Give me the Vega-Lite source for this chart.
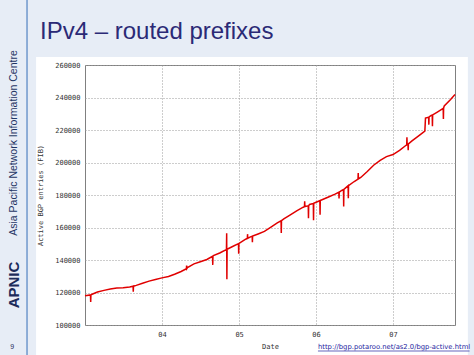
{
  "$schema": "https://vega.github.io/schema/vega-lite/v6.json",
  "width": 370,
  "height": 260,
  "autosize": {"type": "none"},
  "padding": {"left": 85, "top": 65, "right": 19, "bottom": 30},
  "background": "#ffffff",
  "title": {
    "text": "IPv4 – routed prefixes",
    "anchor": "start",
    "frame": "group",
    "dx": -45,
    "offset": -42,
    "dy": 27,
    "baseline": "bottom",
    "font": "Liberation Sans",
    "fontSize": 24,
    "fontWeight": "normal",
    "color": "#2b2a76"
  },
  "config": {
    "view": {"stroke": "#808080", "strokeWidth": 1},
    "axis": {
      "labelFont": "DejaVu Sans Mono",
      "labelFontSize": 7,
      "labelColor": "#333333",
      "labelFlush": false,
      "titleFont": "DejaVu Sans Mono",
      "titleFontSize": 7,
      "titleFontWeight": "normal",
      "titleColor": "#333333",
      "domain": false,
      "ticks": false,
      "grid": true,
      "gridColor": "#9a9a9a",
      "gridDash": [1, 2],
      "gridWidth": 1
    }
  },
  "datasets": {
    "bgp": [
      {"date": "2003-01-01", "entries": 118000},
      {"date": "2003-01-27", "entries": 118500},
      {"date": "2003-01-28", "entries": 114200},
      {"date": "2003-01-29", "entries": 118500},
      {"date": "2003-02-01", "entries": 118800},
      {"date": "2003-03-01", "entries": 120300},
      {"date": "2003-04-01", "entries": 121300},
      {"date": "2003-05-01", "entries": 122200},
      {"date": "2003-06-01", "entries": 122700},
      {"date": "2003-07-01", "entries": 122900},
      {"date": "2003-08-01", "entries": 123400},
      {"date": "2003-08-17", "entries": 123900},
      {"date": "2003-08-18", "entries": 120500},
      {"date": "2003-08-19", "entries": 123900},
      {"date": "2003-09-01", "entries": 124400},
      {"date": "2003-10-01", "entries": 125700},
      {"date": "2003-11-01", "entries": 127000},
      {"date": "2003-12-01", "entries": 128000},
      {"date": "2004-01-01", "entries": 129000},
      {"date": "2004-02-01", "entries": 129800},
      {"date": "2004-03-01", "entries": 131200},
      {"date": "2004-04-01", "entries": 132900},
      {"date": "2004-04-26", "entries": 134600},
      {"date": "2004-04-27", "entries": 136600},
      {"date": "2004-04-28", "entries": 134700},
      {"date": "2004-05-01", "entries": 135300},
      {"date": "2004-06-01", "entries": 137600},
      {"date": "2004-07-01", "entries": 138900},
      {"date": "2004-08-01", "entries": 140300},
      {"date": "2004-08-28", "entries": 142300},
      {"date": "2004-08-29", "entries": 137000},
      {"date": "2004-08-30", "entries": 142400},
      {"date": "2004-09-01", "entries": 142700},
      {"date": "2004-10-01", "entries": 144300},
      {"date": "2004-11-01", "entries": 146400},
      {"date": "2004-11-02", "entries": 146500},
      {"date": "2004-11-03", "entries": 156400},
      {"date": "2004-11-04", "entries": 128200},
      {"date": "2004-11-05", "entries": 146600},
      {"date": "2004-12-01", "entries": 148300},
      {"date": "2004-12-29", "entries": 150100},
      {"date": "2004-12-30", "entries": 143800},
      {"date": "2004-12-31", "entries": 150200},
      {"date": "2005-01-01", "entries": 150300},
      {"date": "2005-02-01", "entries": 152800},
      {"date": "2005-02-09", "entries": 153300},
      {"date": "2005-02-10", "entries": 155900},
      {"date": "2005-02-11", "entries": 153400},
      {"date": "2005-03-01", "entries": 154500},
      {"date": "2005-03-04", "entries": 154600},
      {"date": "2005-03-05", "entries": 151000},
      {"date": "2005-03-06", "entries": 154700},
      {"date": "2005-04-01", "entries": 156000},
      {"date": "2005-05-01", "entries": 157600},
      {"date": "2005-06-01", "entries": 160200},
      {"date": "2005-07-01", "entries": 162800},
      {"date": "2005-07-19", "entries": 164100},
      {"date": "2005-07-20", "entries": 156600},
      {"date": "2005-07-21", "entries": 164200},
      {"date": "2005-08-01", "entries": 165300},
      {"date": "2005-09-01", "entries": 167800},
      {"date": "2005-10-01", "entries": 170200},
      {"date": "2005-11-01", "entries": 172500},
      {"date": "2005-11-07", "entries": 172800},
      {"date": "2005-11-08", "entries": 176200},
      {"date": "2005-11-09", "entries": 172900},
      {"date": "2005-11-25", "entries": 173300},
      {"date": "2005-11-26", "entries": 165700},
      {"date": "2005-11-27", "entries": 173400},
      {"date": "2005-12-01", "entries": 174200},
      {"date": "2005-12-19", "entries": 174800},
      {"date": "2005-12-20", "entries": 164500},
      {"date": "2005-12-21", "entries": 174900},
      {"date": "2006-01-01", "entries": 175500},
      {"date": "2006-01-19", "entries": 176500},
      {"date": "2006-01-20", "entries": 167800},
      {"date": "2006-01-21", "entries": 176600},
      {"date": "2006-02-01", "entries": 177200},
      {"date": "2006-03-01", "entries": 178800},
      {"date": "2006-04-01", "entries": 180500},
      {"date": "2006-04-19", "entries": 181700},
      {"date": "2006-04-20", "entries": 177800},
      {"date": "2006-04-21", "entries": 181800},
      {"date": "2006-05-01", "entries": 182700},
      {"date": "2006-05-11", "entries": 183400},
      {"date": "2006-05-12", "entries": 172900},
      {"date": "2006-05-13", "entries": 183500},
      {"date": "2006-06-01", "entries": 185600},
      {"date": "2006-06-02", "entries": 185700},
      {"date": "2006-06-03", "entries": 178000},
      {"date": "2006-06-04", "entries": 185800},
      {"date": "2006-07-01", "entries": 188300},
      {"date": "2006-07-19", "entries": 189800},
      {"date": "2006-07-20", "entries": 193500},
      {"date": "2006-07-21", "entries": 189900},
      {"date": "2006-08-01", "entries": 190800},
      {"date": "2006-09-01", "entries": 194500},
      {"date": "2006-10-01", "entries": 198300},
      {"date": "2006-11-01", "entries": 201300},
      {"date": "2006-12-01", "entries": 203600},
      {"date": "2007-01-01", "entries": 204900},
      {"date": "2007-02-01", "entries": 207500},
      {"date": "2007-03-01", "entries": 210300},
      {"date": "2007-03-07", "entries": 210900},
      {"date": "2007-03-08", "entries": 215500},
      {"date": "2007-03-09", "entries": 211000},
      {"date": "2007-03-13", "entries": 211300},
      {"date": "2007-03-14", "entries": 207500},
      {"date": "2007-03-15", "entries": 211400},
      {"date": "2007-04-01", "entries": 213300},
      {"date": "2007-05-01", "entries": 216200},
      {"date": "2007-06-01", "entries": 219300},
      {"date": "2007-06-04", "entries": 227300},
      {"date": "2007-06-19", "entries": 227900},
      {"date": "2007-06-20", "entries": 223300},
      {"date": "2007-06-21", "entries": 228000},
      {"date": "2007-07-01", "entries": 229000},
      {"date": "2007-07-06", "entries": 229200},
      {"date": "2007-07-07", "entries": 222300},
      {"date": "2007-07-08", "entries": 229300},
      {"date": "2007-08-01", "entries": 231200},
      {"date": "2007-08-27", "entries": 233300},
      {"date": "2007-08-28", "entries": 226800},
      {"date": "2007-08-29", "entries": 233600},
      {"date": "2007-09-01", "entries": 234800},
      {"date": "2007-10-01", "entries": 238800},
      {"date": "2007-10-22", "entries": 241800}
    ]
  },
  "layer": [
    {
      "data": {"name": "bgp"},
      "mark": {"type": "line", "color": "#e00000", "strokeWidth": 1.5},
      "encoding": {
        "x": {
          "field": "date",
          "type": "temporal",
          "scale": {"domain": [{"year": 2003, "month": 1, "date": 1}, {"year": 2007, "month": 10, "date": 22}], "nice": false},
          "axis": {
            "title": "Date",
            "format": "%y",
            "values": [{"year": 2004, "month": 1, "date": 1}, {"year": 2005, "month": 1, "date": 1}, {"year": 2006, "month": 1, "date": 1}, {"year": 2007, "month": 1, "date": 1}],
            "labelPadding": 5,
            "titleY": 23,
            "titleBaseline": "alphabetic"
          }
        },
        "y": {
          "field": "entries",
          "type": "quantitative",
          "scale": {"domain": [100000, 260000], "nice": false, "zero": false},
          "axis": {"title": "Active BGP entries (FIB)", "format": "d", "tickCount": 8, "labelOverlap": false, "labelPadding": 5, "titleX": -42}
        }
      }
    },
    {
      "data": {"values": [{}]},
      "mark": {"type": "rect", "fill": "#e7edf6"},
      "encoding": {
        "x": {"datum": {"year": 2001, "month": 11, "date": 1}},
        "x2": {"datum": {"year": 2008, "month": 2, "date": 1}},
        "y": {"datum": 300000},
        "y2": {"datum": 264900}
      }
    },
    {
      "data": {"values": [{}]},
      "mark": {"type": "rect", "fill": "#e7edf6"},
      "encoding": {
        "x": {"datum": {"year": 2001, "month": 11, "date": 1}},
        "x2": {"datum": {"year": 2002, "month": 5, "date": 14}},
        "y": {"datum": 300000},
        "y2": {"datum": 80000}
      }
    },
    {
      "data": {"values": [{}]},
      "mark": {"type": "rect", "fill": "#e7edf6"},
      "encoding": {
        "x": {"datum": {"year": 2007, "month": 12, "date": 22}},
        "x2": {"datum": {"year": 2008, "month": 2, "date": 1}},
        "y": {"datum": 300000},
        "y2": {"datum": 80000}
      }
    },
    {
      "data": {"values": [{}]},
      "mark": {"type": "rule", "color": "#6f98cc", "strokeWidth": 1.5},
      "encoding": {
        "x": {"datum": {"year": 2002, "month": 4, "date": 1}},
        "y": {"datum": 300000},
        "y2": {"datum": 80000}
      }
    },
    {
      "data": {"values": [{}]},
      "mark": {"type": "text", "text": "Asia Pacific Network Information Centre", "angle": 270, "align": "center", "baseline": "middle", "font": "Liberation Sans", "fontSize": 10.5, "color": "#1f3564"},
      "encoding": {
        "x": {"datum": {"year": 2002, "month": 1, "date": 29}},
        "y": {"datum": 212000}
      }
    },
    {
      "data": {"values": [{}]},
      "mark": {"type": "text", "text": "APNIC", "angle": 270, "align": "center", "baseline": "middle", "font": "Liberation Sans", "fontSize": 15, "fontWeight": "bold", "color": "#1c2b5a"},
      "encoding": {
        "x": {"datum": {"year": 2002, "month": 1, "date": 29}},
        "y": {"datum": 124600}
      }
    },
    {
      "data": {"values": [{}]},
      "mark": {"type": "text", "text": "9", "align": "center", "baseline": "middle", "font": "Liberation Sans", "fontSize": 7, "color": "#1c2b5a"},
      "encoding": {
        "x": {"datum": {"year": 2002, "month": 1, "date": 21}},
        "y": {"datum": 86460}
      }
    },
    {
      "data": {"values": [{}]},
      "mark": {"type": "text", "text": "http://bgp.potaroo.net/as2.0/bgp-active.html", "align": "left", "baseline": "middle", "font": "DejaVu Sans", "fontSize": 6.8, "color": "#2424a0"},
      "encoding": {
        "x": {"datum": {"year": 2006, "month": 1, "date": 10}},
        "y": {"datum": 86460}
      }
    },
    {
      "data": {"values": [{}]},
      "mark": {"type": "rule", "color": "#2424a0", "strokeWidth": 0.7},
      "encoding": {
        "x": {"datum": {"year": 2006, "month": 1, "date": 10}},
        "x2": {"datum": {"year": 2007, "month": 12, "date": 30}},
        "y": {"datum": 84000}
      }
    }
  ]
}
